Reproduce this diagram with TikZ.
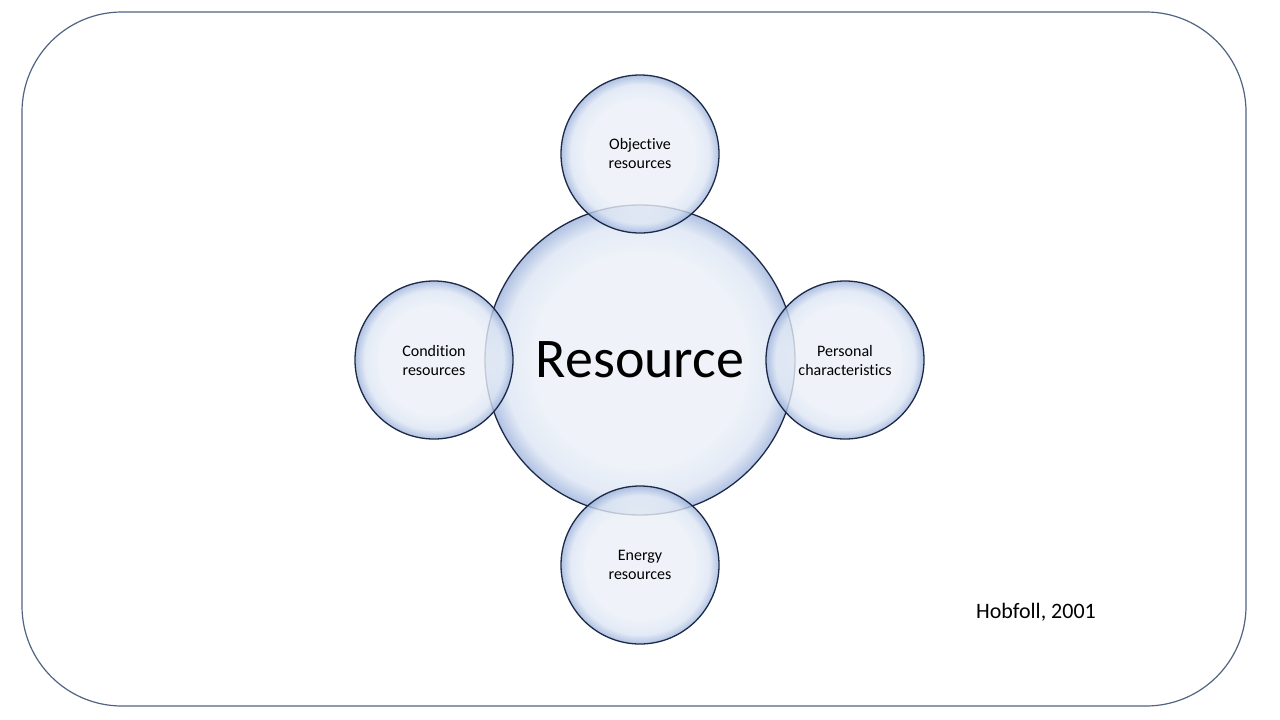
\documentclass[tikz,border=0pt]{standalone}
\usepackage{fontspec}
\setmainfont{Carlito}[Ligatures=NoCommon]
\definecolor{bin}{HTML}{EBF0F8}
\definecolor{bmid}{HTML}{DDE6F4}
\definecolor{bout}{HTML}{9DB3DC}
\definecolor{bline}{HTML}{1C2A48}
\pgfdeclareradialshading{bubble}{\pgfpoint{0bp}{0bp}}{color(0bp)=(bin); color(17bp)=(bin); color(22bp)=(bmid); color(25bp)=(bout); color(50bp)=(bout)}
\begin{document}
\begin{tikzpicture}[x=1pt,y=-1pt,
  bub/.style={circle,draw=bline,line width=1.3pt,shading=bubble,fill opacity=0.8,text opacity=1,align=center,font=\fontsize{16}{19}\selectfont,inner sep=0pt}]
\useasboundingbox (0,0) rectangle (1280,720);
\fill[white] (0,0) rectangle (1280,720);
\draw[color={rgb,255:red,80;green,100;blue,130},line width=1.2pt,rounded corners=100pt] (22,12) rectangle (1246,706);
\node[bub,minimum size=310pt,font=\fontsize{56}{64}\selectfont] (c) at (640,360) {Resource};
\node[bub,minimum size=158pt] (t) at (640,154) {Objective\\resources};
\node[bub,minimum size=158pt] (b) at (640,565) {Energy\\resources};
\node[bub,minimum size=158pt] (l) at (434,360) {Condition\\resources};
\node[bub,minimum size=158pt] (r) at (845,360) {Personal\\characteristics};
\node[font=\fontsize{22}{26}\selectfont] (h) at (1036,612) {Hobfoll, 2001};
\end{tikzpicture}
\end{document}
